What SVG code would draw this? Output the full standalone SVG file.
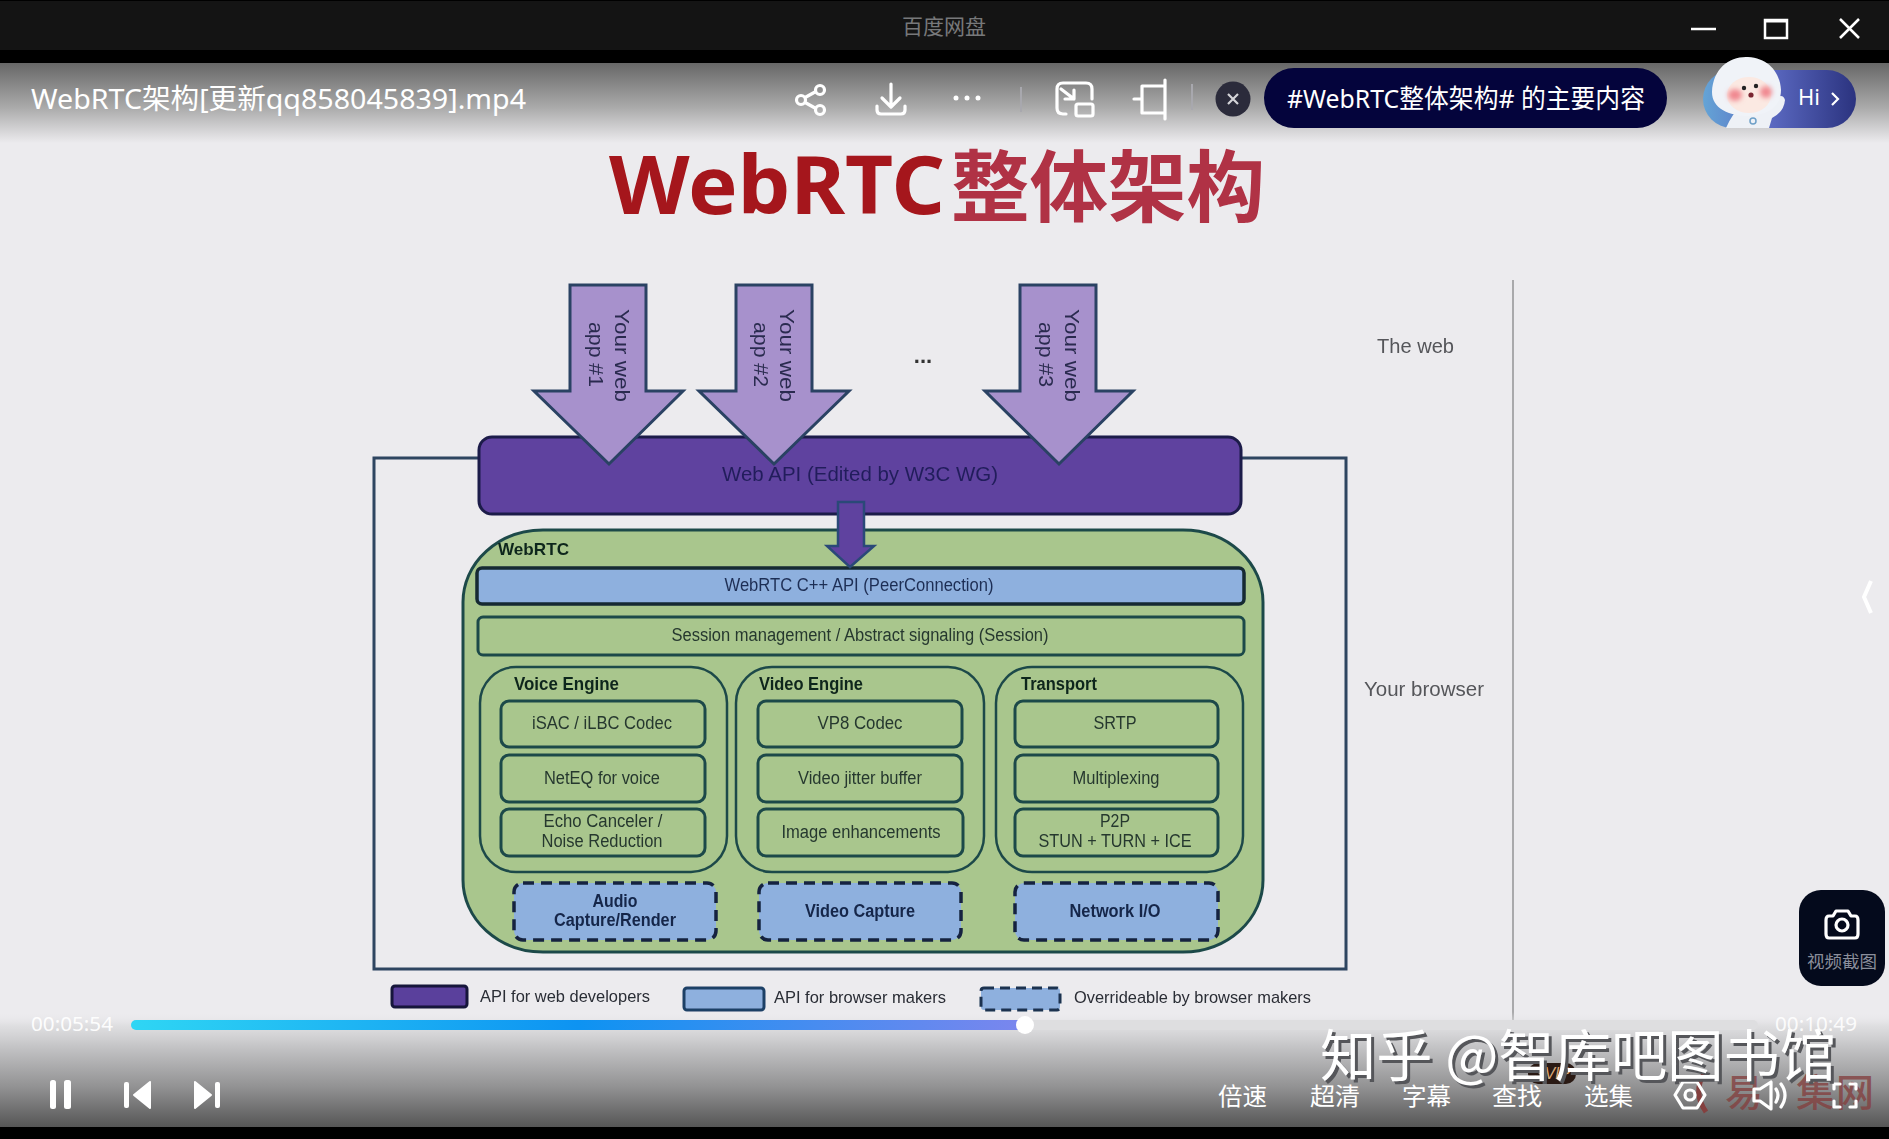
<svg xmlns="http://www.w3.org/2000/svg" width="1889" height="1139" viewBox="0 0 1889 1139">
<style>
text{font-family:"Liberation Sans","Noto Sans CJK SC",sans-serif}
.cjk{font-family:"Noto Sans CJK SC","Liberation Sans",sans-serif}
.ui{font-family:"Noto Sans","Noto Sans CJK SC",sans-serif;fill:#fff}
.app{fill:#a791cc;stroke:#2a4263;stroke-width:3;stroke-linejoin:miter}
.atx{font-size:21px;fill:#2b2c50}
.grp{fill:#a9c68d;stroke:#1f4a4a;stroke-width:2.5}
.sub{fill:#a9c68d;stroke:#1f4a4a;stroke-width:3}
.das{fill:#8eb0de;stroke:#12233f;stroke-width:3.5;stroke-dasharray:11 7}
.t{font-size:18px;fill:#26382f;text-anchor:middle}
.b{font-size:18px;font-weight:700;fill:#14264a;text-anchor:middle}
.h{font-size:18px;font-weight:700;fill:#10261c}
.leg{font-size:17px;fill:#2a2d35}
.ic{fill:none;stroke:#fff;stroke-width:3.2;stroke-linecap:round;stroke-linejoin:round}
.tab{font-size:24px}
</style>
<defs>
<linearGradient id="gt" x1="0" y1="0" x2="0" y2="1"><stop offset="0" stop-color="#676767"/><stop offset=".55" stop-color="#a9a9a9"/><stop offset="1" stop-color="#ecebee"/></linearGradient>
<linearGradient id="gb" x1="0" y1="0" x2="0" y2="1"><stop offset="0" stop-color="#ecebee" stop-opacity="0"/><stop offset=".12" stop-color="#dcdcde" stop-opacity=".85"/><stop offset=".3" stop-color="#c4c4c6"/><stop offset=".65" stop-color="#929293"/><stop offset="1" stop-color="#565656"/></linearGradient>
<linearGradient id="gp" x1="0" y1="0" x2="1" y2="0"><stop offset="0" stop-color="#2fd6f4"/><stop offset=".5" stop-color="#0d93f2"/><stop offset="1" stop-color="#7b86ee"/></linearGradient>
<linearGradient id="gh" x1="0" y1="0" x2="1" y2="0"><stop offset="0" stop-color="#64a4d6"/><stop offset=".45" stop-color="#5a68c0"/><stop offset="1" stop-color="#2b337f"/></linearGradient>
<filter id="soft" x="-2%" y="-2%" width="104%" height="104%"><feGaussianBlur stdDeviation=".55"/></filter>
<filter id="bl" x="-40%" y="-40%" width="180%" height="180%"><feGaussianBlur stdDeviation="2.5"/></filter>
</defs>
<rect width="1889" height="1139" fill="#ecebee"/>

<g id="slide" filter="url(#soft)">
<text x="609" y="214" font-size="80" font-weight="700" fill="#a5151a" style="font-family:'Noto Sans','Liberation Sans',sans-serif" textLength="336" lengthAdjust="spacingAndGlyphs">WebRTC</text>
<text x="951" y="216" class="cjk" font-size="78" font-weight="700" fill="#b03044" textLength="314" lengthAdjust="spacingAndGlyphs">整体架构</text>
<line x1="1513" y1="280" x2="1513" y2="1022" stroke="#a9a9ab" stroke-width="2"/>
<text x="1377" y="353" font-size="20" fill="#55565a" textLength="77" lengthAdjust="spacingAndGlyphs">The web</text>
<text x="1364" y="696" font-size="20" fill="#55565a" textLength="120" lengthAdjust="spacingAndGlyphs">Your browser</text>
<rect id="browser-frame" x="374" y="458" width="972" height="511" fill="#ecebee" stroke="#2e4560" stroke-width="3"/>

<g id="web-api">
<rect x="479" y="437" width="762" height="77" rx="13" fill="#5f429f" stroke="#1d1b4a" stroke-width="3"/>
<text x="860" y="481" text-anchor="middle" font-size="20" fill="#221f5c" textLength="276" lengthAdjust="spacingAndGlyphs">Web API (Edited by W3C WG)</text>
</g>
<g id="app1">
<polygon class="app" points="570,285 646,285 646,391 683,391 609,464 534,391 570,391"/>
<text class="atx" transform="translate(615,309) rotate(90)" textLength="93" lengthAdjust="spacingAndGlyphs">Your web</text>
<text class="atx" transform="translate(589,322) rotate(90)" textLength="65" lengthAdjust="spacingAndGlyphs">app #1</text>
</g>
<g id="app2">
<polygon class="app" points="736,285 812,285 812,391 849,391 774,464 699,391 736,391"/>
<text class="atx" transform="translate(780,309) rotate(90)" textLength="93" lengthAdjust="spacingAndGlyphs">Your web</text>
<text class="atx" transform="translate(754,322) rotate(90)" textLength="65" lengthAdjust="spacingAndGlyphs">app #2</text>
</g>
<text x="923" y="363" text-anchor="middle" font-size="22" font-weight="700" fill="#333">...</text>
<g id="app3">
<polygon class="app" points="1020,285 1096,285 1096,391 1133,391 1059,464 985,391 1020,391"/>
<text class="atx" transform="translate(1065,309) rotate(90)" textLength="93" lengthAdjust="spacingAndGlyphs">Your web</text>
<text class="atx" transform="translate(1039,322) rotate(90)" textLength="65" lengthAdjust="spacingAndGlyphs">app #3</text>
</g>

<g id="webrtc">
<rect x="463" y="530" width="800" height="422" rx="80" ry="72" fill="#a9c68d" stroke="#1f4a4a" stroke-width="3"/>
<text x="498" y="555" font-size="17" font-weight="700" fill="#10261c" textLength="71" lengthAdjust="spacingAndGlyphs">WebRTC</text>
</g>
<g id="cpp-api">
<rect x="477" y="568" width="767" height="36" rx="5" fill="#8eb0de" stroke="#132a33" stroke-width="3.5"/>
<text class="t" x="859" y="591" style="fill:#1f2f55" textLength="269" lengthAdjust="spacingAndGlyphs">WebRTC C++ API (PeerConnection)</text>
</g>
<g id="session">
<rect class="sub" x="478" y="617" width="766" height="38" rx="5"/>
<text class="t" x="860" y="641" textLength="377" lengthAdjust="spacingAndGlyphs">Session management / Abstract signaling (Session)</text>
</g>

<g id="voice-engine">
<rect class="grp" x="480" y="667" width="247" height="205" rx="36"/>
<text class="h" x="514" y="690" textLength="105" lengthAdjust="spacingAndGlyphs">Voice Engine</text>
<rect class="sub" x="501" y="701" width="204" height="46" rx="8"/>
<text class="t" x="602" y="729" textLength="140" lengthAdjust="spacingAndGlyphs">iSAC / iLBC Codec</text>
<rect class="sub" x="501" y="755" width="204" height="47" rx="8"/>
<text class="t" x="602" y="784" textLength="116" lengthAdjust="spacingAndGlyphs">NetEQ for voice</text>
<rect class="sub" x="501" y="809" width="204" height="47" rx="8"/>
<text class="t" x="603" y="827" textLength="119" lengthAdjust="spacingAndGlyphs">Echo Canceler /</text>
<text class="t" x="602" y="847" textLength="121" lengthAdjust="spacingAndGlyphs">Noise Reduction</text>
</g>
<g id="video-engine">
<rect class="grp" x="736" y="667" width="248" height="205" rx="36"/>
<text class="h" x="759" y="690" textLength="104" lengthAdjust="spacingAndGlyphs">Video Engine</text>
<rect class="sub" x="758" y="701" width="204" height="46" rx="8"/>
<text class="t" x="860" y="729" textLength="85" lengthAdjust="spacingAndGlyphs">VP8 Codec</text>
<rect class="sub" x="758" y="755" width="204" height="47" rx="8"/>
<text class="t" x="860" y="784" textLength="124" lengthAdjust="spacingAndGlyphs">Video jitter buffer</text>
<rect class="sub" x="758" y="809" width="205" height="47" rx="8"/>
<text class="t" x="861" y="838" textLength="159" lengthAdjust="spacingAndGlyphs">Image enhancements</text>
</g>
<g id="transport">
<rect class="grp" x="996" y="667" width="247" height="205" rx="36"/>
<text class="h" x="1021" y="690" textLength="76" lengthAdjust="spacingAndGlyphs">Transport</text>
<rect class="sub" x="1015" y="701" width="203" height="46" rx="8"/>
<text class="t" x="1115" y="729" textLength="43" lengthAdjust="spacingAndGlyphs">SRTP</text>
<rect class="sub" x="1015" y="755" width="203" height="47" rx="8"/>
<text class="t" x="1116" y="784" textLength="87" lengthAdjust="spacingAndGlyphs">Multiplexing</text>
<rect class="sub" x="1015" y="809" width="203" height="47" rx="8"/>
<text class="t" x="1115" y="827" textLength="30" lengthAdjust="spacingAndGlyphs">P2P</text>
<text class="t" x="1115" y="847" textLength="153" lengthAdjust="spacingAndGlyphs">STUN + TURN + ICE</text>
</g>
<g id="audio-capture">
<rect class="das" x="514" y="883" width="202" height="57" rx="9"/>
<text class="b" x="615" y="907" textLength="45" lengthAdjust="spacingAndGlyphs">Audio</text>
<text class="b" x="615" y="926" textLength="122" lengthAdjust="spacingAndGlyphs">Capture/Render</text>
</g>
<g id="video-capture">
<rect class="das" x="759" y="883" width="202" height="57" rx="9"/>
<text class="b" x="860" y="917" textLength="110" lengthAdjust="spacingAndGlyphs">Video Capture</text>
</g>
<g id="network-io">
<rect class="das" x="1015" y="883" width="203" height="57" rx="9"/>
<text class="b" x="1115" y="917" textLength="91" lengthAdjust="spacingAndGlyphs">Network I/O</text>
</g>

<g id="connectors">
<polygon points="838,502 864,502 864,546 874,546 850,567 827,546 838,546" fill="#5f429f" stroke="#2b4a78" stroke-width="2.5"/>
</g>

<g id="legend">
<rect x="392" y="986" width="75" height="21" rx="3" fill="#5a3f9c" stroke="#15133a" stroke-width="3"/>
<text class="leg" x="480" y="1002" textLength="170" lengthAdjust="spacingAndGlyphs">API for web developers</text>
<rect x="684" y="988" width="80" height="22" rx="3" fill="#8eb0de" stroke="#1f3f66" stroke-width="3"/>
<text class="leg" x="774" y="1003" textLength="172" lengthAdjust="spacingAndGlyphs">API for browser makers</text>
<rect x="981" y="988" width="79" height="22" rx="3" fill="#8eb0de" stroke="#1a3050" stroke-width="3" stroke-dasharray="10 6"/>
<text class="leg" x="1074" y="1003" textLength="237" lengthAdjust="spacingAndGlyphs">Overrideable by browser makers</text>
</g>
</g>

<g id="top-bar">
<rect width="1889" height="63" fill="#000"/>
<rect y="1" width="1889" height="49" fill="#141414"/>
<rect y="63" width="1889" height="80" fill="url(#gt)"/>
<text class="cjk" x="944" y="34" font-size="21" fill="#77787a" text-anchor="middle">百度网盘</text>
<path d="M1691 29H1716" stroke="#fff" stroke-width="2.5"/>
<rect x="1765" y="20" width="22" height="18" fill="none" stroke="#fff" stroke-width="2.5"/><path d="M1765 21H1787" stroke="#fff" stroke-width="3"/>
<path d="M1840 19L1859 38M1859 19L1840 38" stroke="#fff" stroke-width="2.5"/>
<text class="ui" x="31" y="109" font-size="28" textLength="495" lengthAdjust="spacingAndGlyphs">WebRTC架构[更新qq858045839].mp4</text>
<g id="share-icon" class="ic" stroke-width="2.6"><circle cx="801" cy="100" r="4.5"/><circle cx="820" cy="90" r="4.5"/><circle cx="820" cy="110" r="4.5"/><path d="M806 97L815 92M806 103L815 108"/></g>
<g id="download-icon" class="ic" stroke-width="2.6"><path d="M891 84V106M882 98L891 107L900 98M877 106V110Q877 114 881 114H901Q905 114 905 110V106"/></g>
<g fill="#fff"><circle cx="956" cy="98" r="2.5"/><circle cx="967" cy="98" r="2.5"/><circle cx="978" cy="98" r="2.5"/></g>
<path d="M1021 87V112M1192 84V110" stroke="#a8a8ae" stroke-width="2"/>
<g id="pip-icon" class="ic"><path d="M1066 114H1063Q1057 114 1057 108V89Q1057 83 1063 83H1086Q1092 83 1092 89V99"/><rect x="1076" y="104" width="17" height="12" rx="2"/><path d="M1061 89L1074 99M1074 90V99H1065"/></g>
<g id="crop-icon" class="ic"><path d="M1165 80V119M1165 86H1142V113H1165M1134 99H1142"/></g>
<g id="ai-close"><circle cx="1233" cy="99" r="17.5" fill="#2b2b3b"/><path d="M1228 94L1238 104M1238 94L1228 104" stroke="#d4d4d8" stroke-width="2.2"/></g>
<g id="topic-pill"><rect x="1264" y="68" width="403" height="60" rx="30" fill="#04043c"/><text class="ui" x="1287" y="108" font-size="26" textLength="358" lengthAdjust="spacingAndGlyphs">#WebRTC整体架构# 的主要内容</text></g>
<g id="hi-pill">
<rect x="1703" y="70" width="153" height="58" rx="29" fill="url(#gh)"/>
<path d="M1726 128Q1733 112 1742 106L1772 106L1776 98Q1783 93 1785 100Q1784 112 1772 118L1769 128Z" fill="#eef1f6"/>
<path d="M1712 92C1713 68 1730 56 1748 57C1768 58 1780 72 1781 90C1781 104 1772 114 1750 116C1728 116 1712 108 1712 92Z" fill="#f0f3f8"/>
<ellipse cx="1749" cy="95" rx="22" ry="18" fill="#fbe9e2"/>
<ellipse cx="1735" cy="95" rx="7" ry="6" fill="#f08890" filter="url(#bl)"/>
<ellipse cx="1766" cy="92" rx="6" ry="6" fill="#f08890" filter="url(#bl)"/>
<circle cx="1744" cy="88" r="2.2" fill="#222"/><circle cx="1756" cy="86" r="2.2" fill="#222"/>
<circle cx="1751" cy="95" r="2.6" fill="#7a2530"/>
<circle cx="1753" cy="121" r="3" fill="none" stroke="#6fa0c8" stroke-width="1.5"/>
<text class="ui" x="1798" y="105" font-size="22">Hi</text>
<path d="M1832 93L1838 99L1832 105" fill="none" stroke="#fff" stroke-width="2.2"/>
</g>
</g>

<g id="side-chevron"><path d="M1871 581L1864 597L1871 613" fill="none" stroke="#fff" stroke-width="4"/></g>
<g id="screenshot-button">
<rect x="1799" y="890" width="86" height="96" rx="22" fill="#040a1c"/>
<g class="ic" stroke-width="2.5"><path d="M1829 916H1833L1836 911H1848L1851 916H1855Q1858 916 1858 920V934Q1858 938 1855 938H1829Q1826 938 1826 934V920Q1826 916 1829 916Z"/><circle cx="1842" cy="925" r="6"/></g>
<text class="cjk" x="1842" y="968" font-size="17.5" fill="#8a8e9b" text-anchor="middle">视频截图</text>
</g>

<g id="bottom-bar">
<rect y="1012" width="1889" height="115" fill="url(#gb)"/>
<rect y="1127" width="1889" height="12" fill="#000"/>
<rect x="131" y="1020" width="1627" height="10" rx="5" fill="#dedee0"/>
<rect x="131" y="1020" width="894" height="10" rx="5" fill="url(#gp)"/>
<circle cx="1025" cy="1025" r="9" fill="#fff"/>
<text class="ui" x="31" y="1031" font-size="20" fill-opacity=".95" textLength="82" lengthAdjust="spacingAndGlyphs">00:05:54</text>
<text class="ui" x="1775" y="1031" font-size="20" fill-opacity=".9" textLength="82" lengthAdjust="spacingAndGlyphs">00:10:49</text>
<g fill="#fff"><rect x="50" y="1080" width="6" height="29" rx="2.5"/><rect x="64" y="1080" width="7" height="29" rx="2.5"/>
<rect x="124" y="1082" width="5" height="26" rx="2"/><path d="M150 1082V1108L134 1095Z" stroke="#fff" stroke-width="2" stroke-linejoin="round"/>
<path d="M195 1082V1108L211 1095Z" stroke="#fff" stroke-width="2" stroke-linejoin="round"/><rect x="215" y="1082" width="5" height="26" rx="2"/></g>
<g id="red-mark" class="cjk" font-size="38" font-weight="500" fill="#84403f" fill-opacity=".8"><path d="M1705 1072Q1692 1092 1706 1112" fill="none" stroke="#84403f" stroke-width="5"/><text class="cjk" x="1725" y="1106">易</text><text class="cjk" x="1796" y="1106">集</text><text class="cjk" x="1836" y="1106">网</text></g>
<g id="svip"><rect x="1528" y="1063" width="48" height="21" rx="10" fill="#2a1a14"/><text x="1552" y="1079" font-size="16" font-style="italic" fill="#d8a878" text-anchor="middle">SVIP</text></g>
<g class="cjk tab"><text class="ui tab" x="1218" y="1105" textLength="49" lengthAdjust="spacingAndGlyphs">倍速</text><text class="ui tab" x="1310" y="1105" textLength="50" lengthAdjust="spacingAndGlyphs">超清</text><text class="ui tab" x="1402" y="1105" textLength="49" lengthAdjust="spacingAndGlyphs">字幕</text><text class="ui tab" x="1492" y="1105" textLength="50" lengthAdjust="spacingAndGlyphs">查找</text><text class="ui tab" x="1584" y="1105" textLength="49" lengthAdjust="spacingAndGlyphs">选集</text></g>
<g id="record-icon" class="ic"><path d="M1683 1082H1697L1705 1095L1697 1108H1683L1675 1095Z"/><circle cx="1690" cy="1095" r="5"/></g>
<g id="volume-icon" class="ic"><path d="M1754 1089H1760L1771 1082V1109L1760 1101H1754Z"/><path d="M1776 1089Q1780 1095 1776 1102M1781 1084Q1789 1095 1781 1107"/></g>
<g id="fullscreen-icon" class="ic"><path d="M1834 1089V1084H1840M1850 1084H1856V1089M1856 1101V1107H1850M1840 1107H1834V1101"/></g>
<text class="cjk" x="1323" y="1079" font-size="56" fill="#55565a" textLength="516" lengthAdjust="spacingAndGlyphs">知乎 @智库吧图书馆</text>
<text class="cjk" x="1320" y="1076" font-size="56" fill="#fff" textLength="516" lengthAdjust="spacingAndGlyphs">知乎 @智库吧图书馆</text>
</g>
</svg>
